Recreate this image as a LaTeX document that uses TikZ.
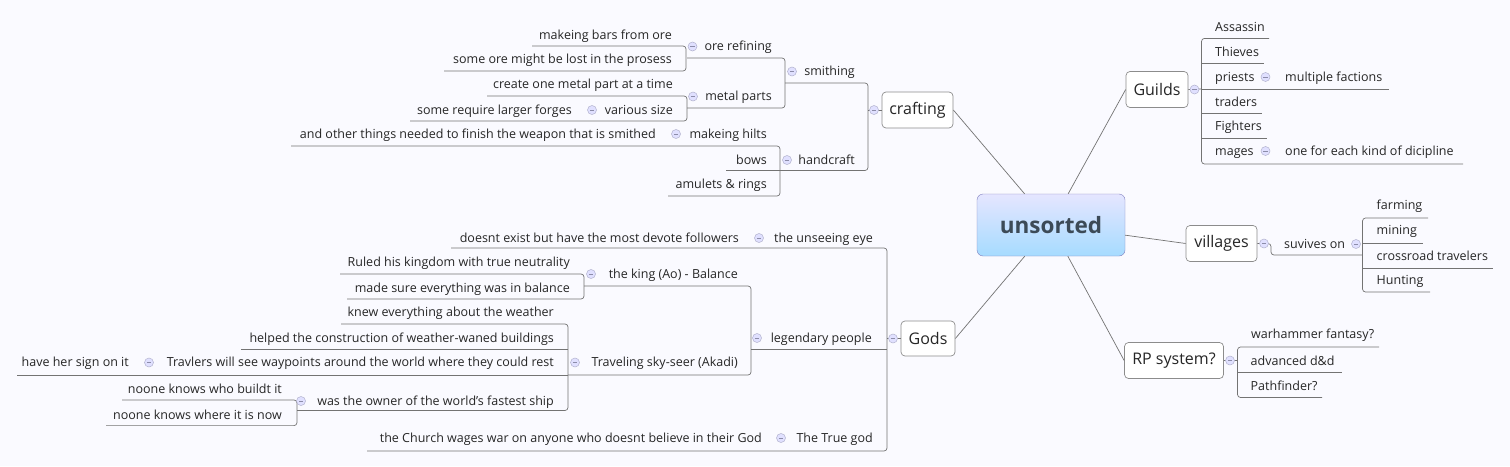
\documentclass[tikz,border=0pt]{standalone}
\usepackage{fontspec}
\setmainfont{Open Sans}
\definecolor{ctr}{HTML}{3C4A57}
\begin{document}
\begin{tikzpicture}[x=1pt,y=-1pt,
  ln/.style={draw=black!55,line width=0.7pt,rounded corners=3pt},
  lt/.style={anchor=east,inner sep=0pt,font=\fontsize{12.5}{14}\selectfont,text=black!85,text height=10pt,text depth=2pt},
  rt/.style={lt,anchor=west},
  box/.style={draw=black!45,fill=white,rounded corners=4pt,line width=0.7pt,minimum height=36pt,inner xsep=6pt,font=\fontsize{16}{19}\selectfont,text=black!85},
  ic/.style={circle,draw=blue!35!black!30,fill=blue!12,minimum size=9pt,inner sep=0pt,line width=0.5pt,
    path picture={\draw[blue!25!black!45,line width=0.6pt]([xshift=-2.2pt]path picture bounding box.center)--([xshift=2.2pt]path picture bounding box.center);}}]
\useasboundingbox (0,0) rectangle (1510,466);
\fill[black!3!blue!2] (0,0) rectangle (1510,466);
% central
\node[draw=blue!50!black!50,rounded corners=6pt,top color=blue!10,bottom color=blue!40!cyan!35,minimum width=148pt,minimum height=62pt,inner sep=0pt,font=\fontsize{22.5}{26}\selectfont\bfseries,text=ctr] (u) at (1051,225) {unsorted};
\node[box,minimum width=71pt] (craft) at (917.5,110) {crafting};
\node[box,minimum width=54pt,minimum height=35pt] (gods) at (928,338.5) {Gods};
\node[box,minimum width=62pt] (guilds) at (1157,89.5) {Guilds};
\node[box,minimum width=71pt] (vill) at (1221.5,243.5) {villages};
\node[box,minimum width=99pt] (rp) at (1174,360.5) {RP system?};
\draw[ln] (u) -- (craft.east);
\draw[ln] (u) -- (gods.east);
\draw[ln] (u) -- (guilds.west);
\draw[ln] (u) -- (vill.west);
\draw[ln] (u) -- (rp.west);
% ---- crafting
\draw[ln] (craft.west) -- (868,110);
\draw[ln] (785,83) -- (868,83) -- (868,170.5) -- (780,170.5);
\draw[ln] (687,58) -- (785,58) -- (785,108) -- (687,108);
\draw[ln] (532,46) -- (686,46) -- (686,71) -- (444,71);
\draw[ln] (487,96) -- (687,96) -- (687,121) -- (410,121);
\draw[ln] (291,146) -- (780,146) -- (780,196) -- (668,196);
\draw[ln] (726,170.5) -- (780,170.5);
\node[lt] (smith) at (855,71.5) {smithing};
\node[lt] (hand) at (855,160) {handcraft};
\node[lt] (ore) at (772,46.5) {ore refining};
\node[lt] (metal) at (772,96.5) {metal parts};
\node[lt] (bars) at (672,35) {makeing bars from ore};
\node[lt] (lost) at (672,59) {some ore might be lost in the prosess};
\node[lt] (create) at (673,84) {create one metal part at a time};
\node[lt] (various) at (673,110) {various size};
\node[lt] (forges) at (572,110) {some require larger forges};
\node[lt] (hilts) at (767,134) {makeing hilts};
\node[lt] (other) at (656,134) {and other things needed to finish the weapon that is smithed};
\node[lt] (bows) at (767,160) {bows};
\node[lt] (amul) at (767,184) {amulets \& rings};
\foreach \p in {(874,110),(792,71.5),(787,160),(692.5,46.5),(693,96.5),(592,110),(676,134)} \node[ic] at \p {};
% ---- gods
\draw[ln] (gods.west) -- (887,338.5);
\draw[ln] (451,248) -- (887,248) -- (887,451) -- (367,451);
\draw[ln] (751,349.5) -- (887,349.5);
\draw[ln] (584,286) -- (751,286) -- (751,375) -- (568,375);
\draw[ln] (340,274) -- (584,274) -- (584,299) -- (347,299);
\draw[ln] (341,324) -- (568,324) -- (568,410.5) -- (297,410.5);
\draw[ln] (241,349.5) -- (568,349.5);
\draw[ln] (17,375) -- (568,375);
\draw[ln] (122,400) -- (297,400) -- (297,425.6) -- (106,425.6);
\node[lt] (eye) at (873,238) {the unseeing eye};
\node[lt] (exist) at (739,238) {doesnt exist but have the most devote followers};
\node[lt] (leg) at (872,338) {legendary people};
\node[lt] (tg) at (873,438) {The True god};
\node[lt] (church) at (762,438) {the Church wages war on anyone who doesnt believe in their God};
\node[lt] (king) at (738,274) {the king (Ao) - Balance};
\node[lt] (ruled) at (570,262) {Ruled his kingdom with true neutrality};
\node[lt] (made) at (570,288) {made sure everything was in balance};
\node[lt] (trav) at (738,362.5) {Traveling sky-seer (Akadi)};
\node[lt] (knew) at (554,312.5) {knew everything about the weather};
\node[lt] (helped) at (554,338) {helped the construction of weather-waned buildings};
\node[lt] (travl) at (554,362.5) {Travlers will see waypoints around the world where they could rest};
\node[lt] (sign) at (129,362.5) {have her sign on it};
\node[lt] (owner) at (554,401) {was the owner of the world's fastest ship};
\node[lt] (who) at (282,389.5) {noone knows who buildt it};
\node[lt] (where) at (282,415.5) {noone knows where it is now};
\foreach \p in {(893,338.5),(759,238),(757,338),(781,438),(591,274),(575,362.5),(149,362.5),(301,401)} \node[ic] at \p {};
% ---- guilds
\draw[ln] (guilds.east) -- (1201.5,89);
\draw[ln] (1269,38.4) -- (1201.5,38.4) -- (1201.5,164) -- (1463,164);
\draw[ln] (1201.5,63.4) -- (1264,63.4);
\draw[ln] (1201.5,89) -- (1389,89);
\draw[ln] (1201.5,113.5) -- (1262,113.5);
\draw[ln] (1201.5,138.6) -- (1267,138.6);
\node[rt] (ass) at (1215,27) {Assassin};
\node[rt] (thi) at (1215,52) {Thieves};
\node[rt] (pri) at (1215,77) {priests};
\node[rt] (mf) at (1285,77) {multiple factions};
\node[rt] (tra) at (1215,102) {traders};
\node[rt] (fig) at (1215,126.5) {Fighters};
\node[rt] (mag) at (1215,151) {mages};
\node[rt] (one) at (1285,151) {one for each kind of dicipline};
% ---- villages
\draw[ln] (vill.east) -- (1271,243.5) -- (1271,255) -- (1362.5,255);
\draw[ln] (1428,218) -- (1362.5,218) -- (1362.5,292) -- (1430,292);
\draw[ln] (1362.5,243) -- (1423,243);
\draw[ln] (1362.5,268) -- (1493,268);
\node[rt] (suv) at (1284,244) {suvives on};
\node[rt] (farm) at (1376.5,205) {farming};
\node[rt] (min) at (1376.5,230.5) {mining};
\node[rt] (cross) at (1376.5,256.5) {crossroad travelers};
\node[rt] (hunt) at (1376.5,280.5) {Hunting};
% ---- rp
\draw[ln] (rp.east) -- (1237.5,360.5);
\draw[ln] (1379,347) -- (1237.5,347) -- (1237.5,397.5) -- (1322,397.5);
\draw[ln] (1237.5,372) -- (1341.5,372);
\node[rt] (war) at (1251,334.5) {warhammer fantasy?};
\node[rt] (adv) at (1250.5,361) {advanced d\&d};
\node[rt] (pf) at (1250.5,386) {Pathfinder?};
\foreach \p in {(1194.5,89.5),(1265.5,77),(1265.5,151),(1264,243.5),(1356,244),(1230,360.5)} \node[ic] at \p {};
\end{tikzpicture}
\end{document}
